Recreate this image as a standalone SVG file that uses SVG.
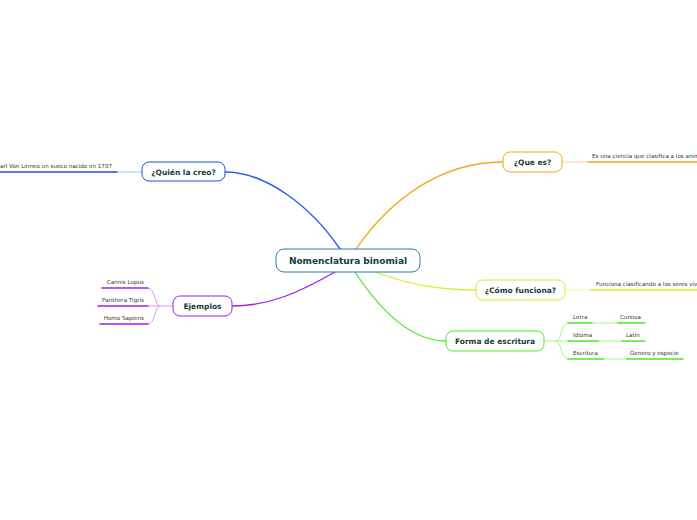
<svg xmlns="http://www.w3.org/2000/svg" width="697" height="520" viewBox="0 0 697 520">
<style>
text{font-family:"DejaVu Sans","Liberation Sans",sans-serif;fill:#333}
.t{font-size:9px;font-weight:bold;fill:#143c3c;text-anchor:middle}
.s{font-size:5.6px}
.n{fill:#fff;stroke-width:1}
path{fill:none}
</style>
<rect width="697" height="520" fill="#fff"/>
<g id="connectors" stroke-linecap="round">
<path d="M340,249 C310,205 265,172 225,172" stroke="#2a5ee8" stroke-width="1.5"/>
<path d="M356,249 C390,200 440,162 503,162" stroke="#f5a623" stroke-width="1.3"/>
<path d="M375,272 C410,285 440,290 476,290" stroke="#d4f020" stroke-width="1.3"/>
<path d="M355,272 C380,310 410,341 446,341" stroke="#4ee82a" stroke-width="1.3"/>
<path d="M335,272 C300,292 270,306 232,306" stroke="#a020f0" stroke-width="1.3"/>
<path d="M562,162 H588" stroke="#fbd39a" stroke-width="1"/>
<path d="M588,162 H697" stroke="#f5a623" stroke-width="1.5"/>
<path d="M565,290 H591" stroke="#eef8a0" stroke-width="1"/>
<path d="M591,290 H697" stroke="#d4f020" stroke-width="1.5"/>
<path d="M142,172 H117" stroke="#a8c0f8" stroke-width="1"/>
<path d="M117,172 H0" stroke="#1a4fe8" stroke-width="1.5"/>
<g stroke="#a6f590" stroke-width="1">
<path d="M544,341 H556 C562,341 560,323 568,323"/><path d="M556,341 H568"/><path d="M556,341 C562,341 560,359 568,359"/>
<path d="M592,323 H618"/><path d="M598,341 H622"/><path d="M603,359 H627"/>
</g>
<g stroke="#4ee82a" stroke-width="1.5">
<path d="M568,323 H592"/><path d="M568,341 H598"/><path d="M568,359 H603"/>
<path d="M618,323 H645"/><path d="M622,341 H645"/><path d="M627,359 H683"/>
</g>
<g stroke="#d49cf8" stroke-width="1">
<path d="M173,306 H160 C154,306 156,288 148,288"/><path d="M160,306 H148"/><path d="M160,306 C154,306 156,324 148,324"/>
</g>
<g stroke="#a020f0" stroke-width="1.5">
<path d="M148,288 H102"/><path d="M148,306 H98"/><path d="M148,324 H100"/>
</g>
</g>
<g id="center"><rect class="n" x="276" y="249" width="144" height="23" rx="8" stroke="#2a7ab0"/><text class="t" x="348" y="264">Nomenclatura binomial</text></g>
<g id="quees"><rect class="n" x="503" y="152" width="59" height="20" rx="7" stroke="#f5a623"/><text class="t" x="532.5" y="165" font-size="7.5" style="font-size:7.5px">¿Que es?</text><text class="s" x="592" y="158">Es una ciencia que clasifica a los anim</text></g>
<g id="como"><rect class="n" x="476" y="280" width="89" height="20" rx="7" stroke="#d4f020"/><text class="t" x="520.5" y="293" style="font-size:7.5px">¿Cómo funciona?</text><text class="s" x="596" y="286">Funciona clasificando a los seres vivo</text></g>
<g id="forma"><rect class="n" x="446" y="331" width="98" height="20" rx="7" stroke="#4ee82a"/><text class="t" x="495" y="344" style="font-size:7.5px">Forma de escritura</text>
<text class="s" x="573" y="319">Letra</text><text class="s" x="620" y="319">Cursiva</text>
<text class="s" x="573" y="337">Idioma</text><text class="s" x="626" y="337">Latín</text>
<text class="s" x="573" y="355">Escritura</text><text class="s" x="630" y="355">Genero y especie</text></g>
<g id="quien"><rect class="n" x="142" y="162" width="83" height="19" rx="7" stroke="#1a4fe8"/><text class="t" x="183.5" y="174.5" style="font-size:7.5px">¿Quién la creo?</text><text class="s" x="112" y="168" text-anchor="end">Carl Von Linneo un sueco nacido en 1707</text></g>
<g id="ejemplos"><rect class="n" x="173" y="296" width="59" height="20" rx="7" stroke="#a020f0"/><text class="t" x="202.5" y="309" style="font-size:7.5px">Ejemplos</text>
<text class="s" x="144" y="284" text-anchor="end">Cannis Lupus</text><text class="s" x="144" y="302" text-anchor="end">Panthera Tigris</text><text class="s" x="144" y="320" text-anchor="end">Homo Sapiens</text></g>
</svg>
